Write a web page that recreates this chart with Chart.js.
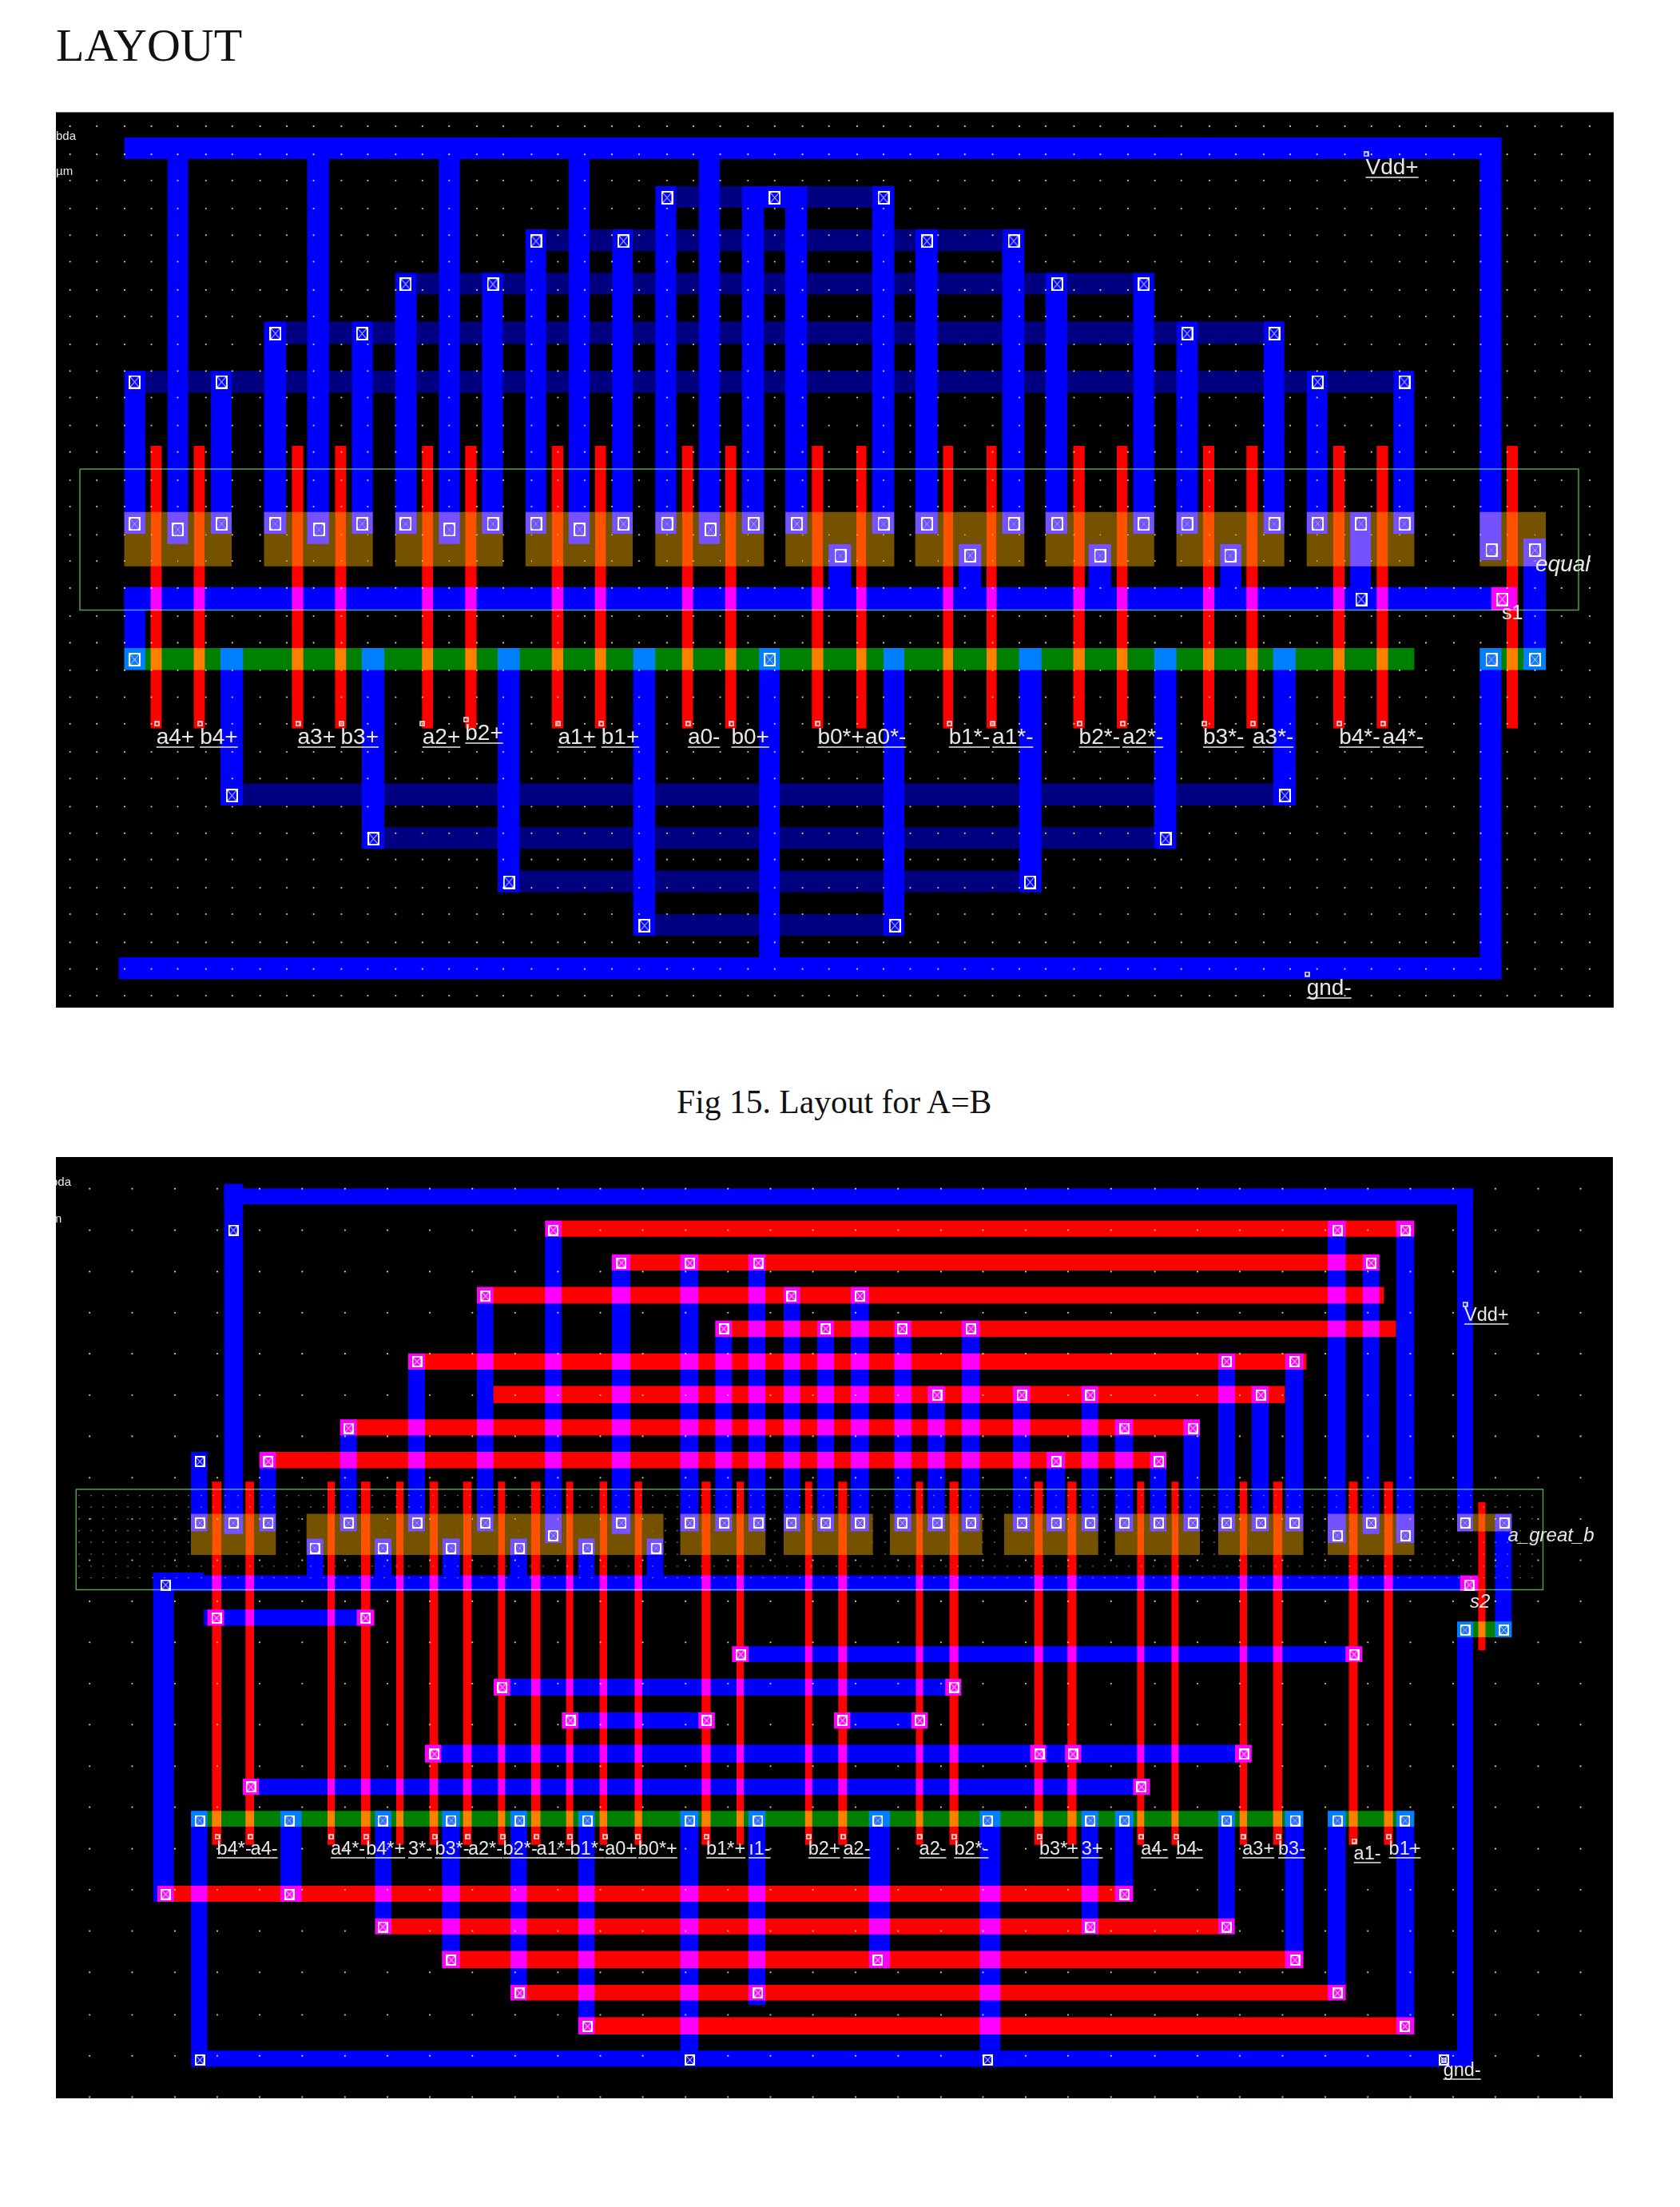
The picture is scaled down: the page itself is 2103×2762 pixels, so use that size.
<!DOCTYPE html>
<html>
<head>
<meta charset="utf-8">
<title>Layout</title>
<script src="https://cdn.jsdelivr.net/npm/chart.js@4"></script>
<style>
    html, body { margin: 0; padding: 0; background: #fff; }
    body { position: relative; width: 2103px; height: 2762px; overflow: hidden; }
    canvas { position: absolute; display: block; }
    .txt { position: absolute; font-family: "Liberation Serif", serif; color: #111; white-space: nowrap; line-height: 1; }
</style>
</head>
<body>
<div class="txt" id="title" style="left:70px;top:28px;font-size:58px">LAYOUT</div>
<div class="txt" id="caption" style="left:847px;top:1359px;font-size:41.6px">Fig 15. Layout for A=B</div>
<canvas id="chartEqual" width="1950" height="1120" style="left:70px;top:141px;box-shadow:0 -1px 0 #777"></canvas>
<canvas id="chartGreat" width="1949" height="1178" style="left:70px;top:1448px"></canvas>
<script>
// all layer data is [x1, y1, x2, y2]
// ---- A=B layout ----
var eqMetal = [
    [155.5,172,1879.4,199], [1852.3,172,1879.4,701], [148.4,1198,1879.4,1225.4], [1852.3,811,1879.4,1225.4],
    [209.6,172,235.4,680.7], [384.5,172,411.8,680.7], [549.3,172,575.6,680.7], [711.8,172,738,680.7], [874.7,172,901,680.7],
    [155.5,464,181.9,668], [264,464,290,668], [330.5,402.5,358.2,668], [440.4,402.5,466.7,668],
    [494.8,341.4,521.6,668], [603.3,341.4,629.6,668], [657.8,287,683.7,668], [766.3,287,792.1,668],
    [820.3,233,846.6,668], [928.8,233,956.4,668], [983,233,1010.4,668], [1091.7,233,1119.4,668],
    [1145.7,287,1173.8,668], [1254.6,287,1282.3,668], [1308.7,341.4,1335.9,668], [1418.5,341.4,1444.8,668],
    [1472.6,402.5,1499.4,668], [1581.7,402.5,1607.7,668], [1635.7,464,1661.7,668], [1744.3,464,1770.4,668],
    [928.8,233,1010.4,260],
    [1037.2,681,1065.4,763.4], [1200.2,681,1228.3,763.4], [1362.7,681,1390.8,763.4], [1527.4,681,1553.8,763.4], [1690,640.7,1716,763.4],
    [155.5,734.7,1899,763.4], [155.5,734.7,181.9,838.4], [1907,674,1935,838.4],
    [276,810.9,304.2,1008], [1593.6,810.9,1621.9,1008], [452.9,810.9,481,1062.3], [1444.8,810.9,1472.6,1062.3],
    [623,810.9,650.6,1116.7], [1275.6,810.9,1303.8,1116.7], [792.6,810.9,820.3,1171], [1106,810.9,1131.9,1171],
    [950.2,810.9,976,1198]
];
var eqMetal2 = [
    [155.5,464,1770.4,491.4], [330.5,402.5,1607.7,430.4], [494.8,341.4,1444.8,368.6], [657.8,287,1282.3,314.3], [820.3,233,1119.4,260],
    [276,980.4,1621.9,1008], [452.9,1035.1,1472.6,1062.3], [623,1089.5,1303.8,1116.7], [792.6,1144.2,1131.9,1171]
];
var eqPoly = [
    [188.6,557.9,202.4,911.5], [242.6,557.9,256.4,911.5], [365.4,557.9,379.6,911.5], [419.4,557.9,433.2,911.5],
    [528.3,557.9,542.1,911.5], [582.3,557.9,596.6,911.5], [690.8,557.9,705,911.5], [744.8,557.9,758.6,911.5],
    [853.8,557.9,867.6,911.5], [907.8,557.9,921.6,911.5], [1016.3,557.9,1030.5,911.5], [1072,557.9,1084.5,911.5],
    [1180.5,557.9,1193,911.5], [1235,557.9,1247.5,911.5], [1343.5,557.9,1357.8,911.5], [1398,557.9,1411.3,911.5],
    [1506,557.9,1520,911.5], [1560.3,557.9,1574.4,911.5], [1669,557.9,1683,911.5], [1723.3,557.9,1737.5,911.5],
    [1886,557.9,1900,911.5], [1866.8,734.7,1899,763.4]
];
var eqDiff = [
    [155.5,640.7,290,708.7], [330.5,640.7,466.7,708.7], [494.8,640.7,629.6,708.7], [657.8,640.7,792,708.7],
    [820.3,640.7,956.4,708.7], [983.2,640.7,1119.4,708.7], [1145.7,640.7,1282.3,708.7], [1308.7,640.7,1444.8,708.7],
    [1472.6,640.7,1607.7,708.7], [1635.7,640.7,1770.4,708.7], [1852.3,640.7,1935,708.7]
];
var eqActive = [[155.5,810.9,1770.4,838.4], [1852.3,810.9,1935,838.4]];
var eqBox = [100,587,1976,763.4];
var eqViaY = [655.7, 662.9, 695.3, 688.4, 478, 417.5, 355.7, 301.8, 247.5, 825.5, 995.7, 1049.7, 1104, 1158.4, 750];
var eqViaX = [
    [168.5,277.4,344.8,453.3,507.8,617,671,780.5,835,943.5,997.5,1106,1160.4,1269,1323.4,1431.9,1486,1595,1649.4,1703.8,1758],
    [222.5,399.3,562.7,725.6,889.5],
    [1052,1214.5,1377,1540],
    [1867,1921.5],
    [168.5,277.4,1649.4,1758],
    [344.8,453.3,1486,1595],
    [507.8,617,1323.4,1431.9],
    [671,780.5,1160.4,1269],
    [835,969.8,1106],
    [168.5,963.6,1867,1921.5],
    [290.4,1608.5], [467.6,1459], [637.2,1289.5], [806.9,1120.3],
    [1704,1880.6]
];
var eqPinX = [196.6,250.6,373,427.4,528.8,583.2,698.8,752.8,861.3,915.8,1023.8,1188.6,1242.6,1351.5,1405.5,1507.5,1568.3,1676.6,1731,1710,1636.4];
var eqPinY = [905.8,905.8,905.8,905.8,905.8,900.8,905.8,905.8,905.8,905.8,905.8,905.8,905.8,905.8,905.8,905.8,905.8,905.8,905.8,192.9,1219];
var eqLabelNames = ['a4+','b4+','a3+','b3+','a2+','b2+','a1+','b1+','a0-','b0+','b0*+','a0*-','b1*-','a1*-','b2*-','a2*-','b3*-','a3*-','b4*-','a4*-','Vdd+','gnd-'];
var eqLabelX = [195.7,250.2,372.5,426.5,528.8,582.3,698.4,752.8,860.9,915.4,1023.4,1083,1187.7,1242.1,1350.6,1405,1506,1568,1676.2,1730.6,1709.5,1635.7];
var eqLabelY = [931,931,931,931,931,926,931,931,931,931,931,931,931,931,931,931,931,931,931,931,218,1245];
var eqGridX = [87.7,121.2,156,189.5,222.5,257.8,290.8,325.6,359,392.6,427.4,460.4,495.3,528.8,562.2,597,630,665.4,698.4,731.9,766,800,835,868,901.5,936.3,969.8,1004.6,1037.7,1073,1106,1139.5,1174.3,1207.8,1242.6,1276,1309,1344.4,1377.4,1412,1445.7,1478.8,1514,1547,1582,1615,1648.7,1683.5,1716.8,1752,1785,1820,1853.4,1886.7,1921.5,1954.8,1990];
var eqGridY = [157.9,193.2,226,261,294.3,327.5,362.9,396,431,464.3,497.5,532.5,565.7,601,634,669.3,702,735.9,771,804.4,838.8,872.5,905.8,941,974.3,1009.5,1042.8,1075.7,1111,1144,1179.4,1212.7,1246];

// ---- A>B layout ----
var gtMetal = [
    [280.5,1481.5,304.2,1919.7], [280.5,1487.3,1843.8,1507.2], [1824,1487.3,1843.8,1916.4], [1824,2029.2,1843.8,2586.5], [239,2566.3,1843.8,2586.5],
    [239,1817,259.6,1916.4], [324.7,1817,345.3,1916.4], [425.6,1776.3,446.6,1916.4], [510.9,1693.8,531.9,1916.4], [597,1610.4,617.6,1916.4],
    [682.3,1527.5,702.9,1931], [765.8,1569.8,789,1919.7], [851.5,1569.8,874.3,1916.4], [895.3,1652.7,916.3,1916.4], [936.8,1569.8,958.2,1916.4],
    [981,1610.4,1001.5,1916.4], [1023,1652.7,1044,1916.4], [1064.9,1610.4,1087.7,1916.4], [1119.4,1652.7,1140.8,1916.4], [1161.3,1734.4,1182.8,1916.4],
    [1203.8,1652.7,1226.5,1916.4], [1268,1734.4,1289.5,1916.4], [1310,1817,1333.2,1916.4], [1353.8,1734.4,1374.7,1916.4], [1395.7,1776.3,1418.5,1916.4],
    [1439.5,1817,1460,1916.4], [1481.4,1776.3,1502,1916.4], [1525,1693.8,1546,1916.4], [1566.8,1734.4,1588.2,1916.4], [1608.9,1693.8,1631.5,1916.4],
    [1662,1527.5,1684.6,1931], [1705.7,1569.8,1726.7,1919.7], [1747.8,1527.5,1770.4,1931], [1871.4,1894.4,1892.4,2049],
    [384,1925.6,404.6,1991], [469,1925.6,490,1991], [553.8,1925.6,575.6,1991], [638.6,1925.6,659.6,1991], [723.8,1925.6,744.4,1991], [809.6,1925.6,830.5,1991],
    [191.7,1971.6,1850.4,1991], [191.7,1968,255,1991], [191.7,1968,217.6,2380],
    [255,2014.3,468.5,2034.6], [916.3,2060.3,1705.3,2080], [618,2100.9,1203.3,2122], [703.3,2143,894.8,2163.3], [1043.9,2143,1161.3,2163.3],
    [531.9,2183.6,1566.8,2205.8], [303.8,2226,1439.5,2246.3],
    [239,2266,259.6,2586.5], [351,2266,377.4,2380], [469.4,2266,490,2420.8], [553.3,2266,575.6,2463], [639,2266,659.6,2503.5], [723.8,2266,744.4,2546],
    [851.5,2266,874.3,2586.5], [936.8,2266,958.2,2509.2], [1087.7,2266,1114,2463], [1226.5,2266,1252.4,2586.5], [1353.8,2266,1374.7,2420.8], [1395.7,2266,1418.5,2380],
    [1525,2266,1545.7,2420.8], [1608.5,2266,1631.5,2463], [1662,2266,1684.6,2503.5], [1747.8,2266,1770.4,2546]
];
var gtPoly = [
    [682.3,1527.5,1770.4,1547.8], [765.8,1569.8,1726.7,1590], [597,1610.4,1732.5,1631.2], [895.3,1652.7,1747.4,1673],
    [510.9,1693.8,1635.3,1714], [617.6,1734.4,1608.5,1756], [425.6,1776.3,1502,1796.6], [324.7,1817,1460,1837.6],
    [197,2360,1418.5,2380], [469.4,2401,1545.7,2420.8], [553.3,2441.5,1631.5,2463], [639,2484,1684.6,2503.5], [723.8,2524.6,1770.4,2546],
    [265.4,1854.2,277,2308.7], [307.3,1854.2,318,2308.7], [410,1854.2,419,2308.7], [452,1854.2,463.6,2308.7], [496,1854.2,505,2308.7], [537.7,1854.2,548.4,2308.7],
    [579.6,1854.2,590.4,2308.7], [623.4,1854.2,632.3,2308.7], [665,1854.2,676.5,2308.7], [708.7,1854.2,717.6,2308.7], [750.6,1854.2,760,2308.7], [794.4,1854.2,803.8,2308.7],
    [878.3,1854.2,889.5,2308.7], [922,1854.2,931,2308.7], [1007.8,1854.2,1016.7,2308.7], [1049.3,1854.2,1060.4,2308.7], [1146.6,1854.2,1155.5,2308.7], [1188.6,1854.2,1199.7,2308.7],
    [1294.8,1854.2,1305.5,2308.7], [1336.3,1854.2,1347.5,2308.7], [1423.4,1854.2,1432.3,2308.7], [1466.5,1854.2,1475.3,2308.7], [1551.8,1854.2,1561,2308.7], [1593.6,1854.2,1605,2308.7],
    [1688.5,1854.2,1699.6,2308.7], [1732.5,1854.2,1743.6,2308.7], [1850.4,1880,1859.5,2065.3],
    [259.6,2014.3,280.5,2034.6], [446.6,2014.3,468.5,2034.6], [916.3,2060.3,937.2,2080], [1684.3,2060.3,1705.3,2080],
    [618,2100.9,638.6,2122], [1183.2,2100.9,1203.3,2122], [703.3,2143,723.8,2163.3], [874.3,2143,894.8,2163.3],
    [1043.9,2143,1064.5,2163.3], [1140.8,2143,1161.3,2163.3], [531.9,2183.6,552.4,2205.8], [1289.5,2183.6,1309.6,2205.8],
    [1333.2,2183.6,1353.3,2205.8], [1546,2183.6,1566.8,2205.8], [303.8,2226,324.3,2246.3], [1418.5,2226,1439.5,2246.3],
    [1827.8,1971.6,1850.4,1991]
];
var gtDiff = [
    [239,1894.4,345.3,1945.9], [383.7,1894.4,830.5,1945.9], [851.5,1894.4,958.2,1945.9], [981,1894.4,1092.6,1945.9], [1114,1894.4,1229.6,1945.9],
    [1256.9,1894.4,1374.7,1945.9], [1395.7,1894.4,1502,1945.9], [1525,1894.4,1631.5,1945.9], [1662,1894.4,1770.4,1945.9], [1824,1894.4,1892.4,1916.4]
];
var gtActive = [[239,2266.2,1631.5,2286.1], [1662,2266.2,1770.4,2286.1], [1824,2029.2,1892.4,2049]];
var gtBox = [95.3,1863.8,1931.5,1989.4];
var gtViaY = [1539.6,1580.6,1622,1663,1704,1746,1787.5,1829,1906,1921.8,1937.6,1983.6,2025,2070.6,2111.6,2153.3,2195.4,2236.4,2278.5,2040,2370.7,2411.6,2453,2494.3,2536,2578];
var gtViaX = [
    [692.6,292.1,1674.3,1759.3],
    [777.9,863.6,949.3,1716.4],
    [607.8,990.8,1076.5],
    [906,1033.7,1129.6,1215.4],
    [522,1535.4,1620.7],
    [1173,1279.2,1364.9,1578.3],
    [436.3,1407.8,1493.3],
    [250.2,335.9,1322,1450.6],
    [250.2,292.1,335.9,436.3,522,607.8,777.9,863.6,906.9,949.3,990.8,1033.7,1076.5,1129.6,1173,1215.4,1279.2,1322,1364.9,1407.8,1450.6,1493.3,1535.4,1578.3,1620.7,1716.4,1834,1883],
    [692.6,1674.3,1759.3],
    [394,479.2,564.9,650.6,735.4,821.2],
    [207.3,1839.3],
    [271,457.8],
    [927.4,1695],
    [628.8,1194.4],
    [714,884.6,1054.6,1151.5],
    [543.9,1301,1343,1557.2],
    [314,1428.8],
    [250.2,362.2,479.2,564.9,650.6,735.4,863.6,948.8,1098.8,1236.3,1364.9,1407.8,1535.4,1621,1674.3,1758.9],
    [1834,1882.5],
    [207.3,362.2,1407.8],
    [479.2,1364.9,1535.4],
    [564.9,1098.8,1621],
    [650.6,948.8,1674.3],
    [735.4,1758.9],
    [250.2,863.6,1236.3,1807.5]
];
var gtPinX = [272,313.6,414.5,458.2,544,585.9,629.2,671.6,713.6,757.3,798.8,884.1,1012.2,1055.5,1151,1194.4,1301,1428.3,1472.2,1556,1600,1695,1738.6,1834,1807.5];
var gtPinY = [2298.8,2298.8,2298.8,2298.8,2298.8,2298.8,2298.8,2298.8,2298.8,2298.8,2298.8,2298.8,2298.8,2298.8,2298.8,2298.8,2298.8,2298.8,2298.8,2298.8,2298.8,2304,2298.8,1632.4,2578];
var gtLabelNames = ['b4*-','a4-','a4*-','b4*+','3*-','b3*-','a2*-','b2*-','a1*-','b1*-','a0+','b0*+','b1*+','ı1-','b2+','a2-','a2-','b2*-','b3*+','3+','a4-','b4-','a3+','b3-','a1-','b1+','Vdd+','gnd-'];
var gtLabelX = [271.6,313.6,414,458.2,511,544.4,585.9,629.6,671.6,713.6,757.3,798.8,884.1,937.2,1011.8,1055.5,1150.6,1194.4,1301,1353.8,1428.3,1472.2,1555.3,1600,1694.6,1738.6,1833,1806.7];
var gtLabelY = [2321,2321,2321,2321,2321,2321,2321,2321,2321,2321,2321,2321,2321,2321,2321,2321,2321,2321,2321,2321,2321,2321,2321,2321,2327,2321,1653,2598];
var gtGridX = [112.2,165.4,219,272,325,378.3,431.9,485,538.1,591.3,644.8,698.4,751.5,804.6,858.2,911.3,964.5,1017.6,1071,1124.3,1177.9,1230.5,1284,1337,1390.8,1445.7,1499,1552,1605.4,1659,1712.2,1765.4,1819,1872,1925.4,1978.6];
var gtGridY = [1487.7,1539.6,1591.4,1642.8,1694.2,1746,1797.4,1849.3,1901,1952.6,2003.9,2055.3,2107,2158.3,2210.3,2261.6,2313.7,2365,2416.6,2468.3,2521.5,2572.8,2624.4];
var gtFineX = [99,114,129,145,160,175,191,206,221,236,252,267,282,298,313,328,343,359,374,389,405,420,435,450,466,481,496,512,527,542,557,573,588,603,619,634,649,664,680,695,710,726,741,756,771,787,802,817,833,848,863,878,894,909,924,940,955,970,985,1001,1016,1031,1047,1062,1077,1092,1108,1123,1138,1154,1169,1184,1199,1215,1230,1245,1261,1276,1291,1306,1322,1337,1352,1368,1383,1398,1413,1429,1444,1459,1475,1490,1505,1520,1536,1551,1566,1582,1597,1612,1627,1643,1658,1673,1689,1704,1719,1734,1750,1765,1780,1796,1811,1826,1841,1857,1872,1887,1903,1918];
var gtFineY = [1871.6,1886.1,1900.7,1915.6,1930.1,1945,1960,1974.5];

// text that sits on the layouts without an underline
var eqNotes = ['s1','equal','bda','µm'];
var eqNoteX = [1880,1922,70,70];
var eqNoteY = [775,715,175,219];
var gtNotes = ['s2','a_great_b','bda','µm'];
var gtNoteX = [1840,1887.5,64,56];
var gtNoteY = [2012,1929,1484,1530];

var BLUE = '#0000ff', DARK = '#000080', RED = '#ff0000', BROWN = '#745200', GREEN = '#008000';

function makeVia(w, h) {
    var c = document.createElement('canvas');
    c.width = w; c.height = h;
    var g = c.getContext('2d');
    g.strokeStyle = '#fff';
    g.lineWidth = 2;
    g.strokeRect(1, 1, w - 2, h - 2);
    g.lineWidth = 1;
    g.beginPath();
    g.moveTo(2, 2); g.lineTo(w - 2, h - 2);
    g.moveTo(w - 2, 2); g.lineTo(2, h - 2);
    g.stroke();
    return c;
}

function makePin() {
    var c = document.createElement('canvas');
    c.width = 7; c.height = 7;
    var g = c.getContext('2d');
    g.strokeStyle = '#fff';
    g.lineWidth = 1.5;
    g.strokeRect(1, 1, 5, 5);
    return c;
}

// a rectangle of a layer is one thick line along its long side
function wires(rects, color) {
    return rects.map(function (r) {
        var w = r[2] - r[0], h = r[3] - r[1];
        var pts = w >= h
            ? [{x: r[0], y: (r[1] + r[3]) / 2}, {x: r[2], y: (r[1] + r[3]) / 2}]
            : [{x: (r[0] + r[2]) / 2, y: r[1]}, {x: (r[0] + r[2]) / 2, y: r[3]}];
        return {
            data: pts, showLine: true, pointRadius: 0, fill: false, tension: 0,
            borderColor: color, borderWidth: Math.min(w, h), borderCapStyle: 'butt'
        };
    });
}

function boxOutline(b) {
    return {
        data: [{x: b[0], y: b[1]}, {x: b[2], y: b[1]}, {x: b[2], y: b[3]}, {x: b[0], y: b[3]}, {x: b[0], y: b[1]}],
        showLine: true, pointRadius: 0, fill: false, borderColor: '#4f9f4f', borderWidth: 1.5
    };
}

function dots(xs, ys, color, radius) {
    var pts = [];
    ys.forEach(function (y) {
        xs.forEach(function (x) { pts.push({x: x, y: y}); });
    });
    return {data: pts, showLine: false, pointRadius: radius, pointBorderWidth: 0, pointBackgroundColor: color};
}

function marks(xs, ys, sprite) {
    return {
        data: xs.map(function (x, i) { return {x: x, y: ys[i]}; }),
        showLine: false, pointRadius: 5, pointStyle: sprite
    };
}

function viaMarks(rowsY, rowsX, sprite) {
    var xs = [], ys = [];
    rowsY.forEach(function (y, i) {
        rowsX[i].forEach(function (x) { xs.push(x); ys.push(y); });
    });
    return marks(xs, ys, sprite);
}

// layers add up like in the layout tool: red on blue gives magenta and so on
var layerPlugin = {
    id: 'layers',
    beforeDraw: function (chart) {
        var ctx = chart.ctx;
        ctx.save();
        ctx.fillStyle = '#000';
        ctx.fillRect(0, 0, chart.width, chart.height);
        ctx.restore();
    },
    beforeDatasetsDraw: function (chart) {
        chart.ctx.save();
        chart.ctx.globalCompositeOperation = 'lighten';
    },
    afterDatasetsDraw: function (chart) {
        chart.ctx.restore();
    }
};

function textPlugin(cfg) {
    return {
        id: 'texts',
        afterDraw: function (chart) {
            var ctx = chart.ctx, sx = chart.scales.x, sy = chart.scales.y;
            ctx.save();
            ctx.fillStyle = '#e8e8e8';
            ctx.strokeStyle = '#e8e8e8';
            ctx.textBaseline = 'alphabetic';
            ctx.font = cfg.labelFont;
            cfg.names.forEach(function (t, i) {
                var x = sx.getPixelForValue(cfg.xs[i]), y = sy.getPixelForValue(cfg.ys[i]);
                ctx.fillText(t, x, y);
                ctx.lineWidth = 1.5;
                ctx.beginPath();
                ctx.moveTo(x, y + 4);
                ctx.lineTo(x + ctx.measureText(t).width, y + 4);
                ctx.stroke();
            });
            cfg.notes.forEach(function (t, i) {
                ctx.font = cfg.noteFonts[i];
                ctx.fillText(t, sx.getPixelForValue(cfg.noteX[i]), sy.getPixelForValue(cfg.noteY[i]));
            });
            ctx.restore();
        }
    };
}

function layoutChart(id, range, datasets, text) {
    return new Chart(id, {
        type: 'scatter',
        data: {datasets: datasets},
        options: {
            responsive: false,
            animation: false,
            devicePixelRatio: 1,
            layout: {padding: 0, autoPadding: false},
            events: [],
            plugins: {legend: {display: false}, tooltip: {enabled: false}, title: {display: false}},
            scales: {
                x: {type: 'linear', display: false, min: range[0], max: range[2]},
                y: {type: 'linear', display: false, reverse: true, min: range[1], max: range[3]}
            }
        },
        plugins: [layerPlugin, textPlugin(text)]
    });
}

layoutChart('chartEqual', [70, 141, 2020, 1261], [].concat(
    wires(eqDiff, BROWN), wires(eqActive, GREEN), wires(eqMetal2, DARK), wires(eqMetal, BLUE), wires(eqPoly, RED),
    [boxOutline(eqBox),
     dots(eqGridX, eqGridY, '#d2d264', 1.1),
     viaMarks(eqViaY, eqViaX, makeVia(15, 17)),
     marks(eqPinX, eqPinY, makePin())]
), {
    labelFont: '28px "Liberation Sans"',
    names: eqLabelNames, xs: eqLabelX, ys: eqLabelY,
    notes: eqNotes, noteX: eqNoteX, noteY: eqNoteY,
    noteFonts: ['25px "Liberation Sans"', 'italic 28px "Liberation Sans"', '15px "Liberation Sans"', '15px "Liberation Sans"']
});

layoutChart('chartGreat', [70, 1448, 2019, 2626], [].concat(
    wires(gtDiff, BROWN), wires(gtActive, GREEN), wires(gtMetal, BLUE), wires(gtPoly, RED),
    [boxOutline(gtBox),
     dots(gtGridX, gtGridY, '#d2d264', 1.1),
     dots(gtFineX, gtFineY, '#8f9a50', 0.8),
     viaMarks(gtViaY, gtViaX, makeVia(13, 14)),
     marks(gtPinX, gtPinY, makePin())]
), {
    labelFont: '23.5px "Liberation Sans"',
    names: gtLabelNames, xs: gtLabelX, ys: gtLabelY,
    notes: gtNotes, noteX: gtNoteX, noteY: gtNoteY,
    noteFonts: ['italic 24px "Liberation Sans"', 'italic 24px "Liberation Sans"', '15px "Liberation Sans"', '15px "Liberation Sans"']
});
</script>
</body>
</html>
